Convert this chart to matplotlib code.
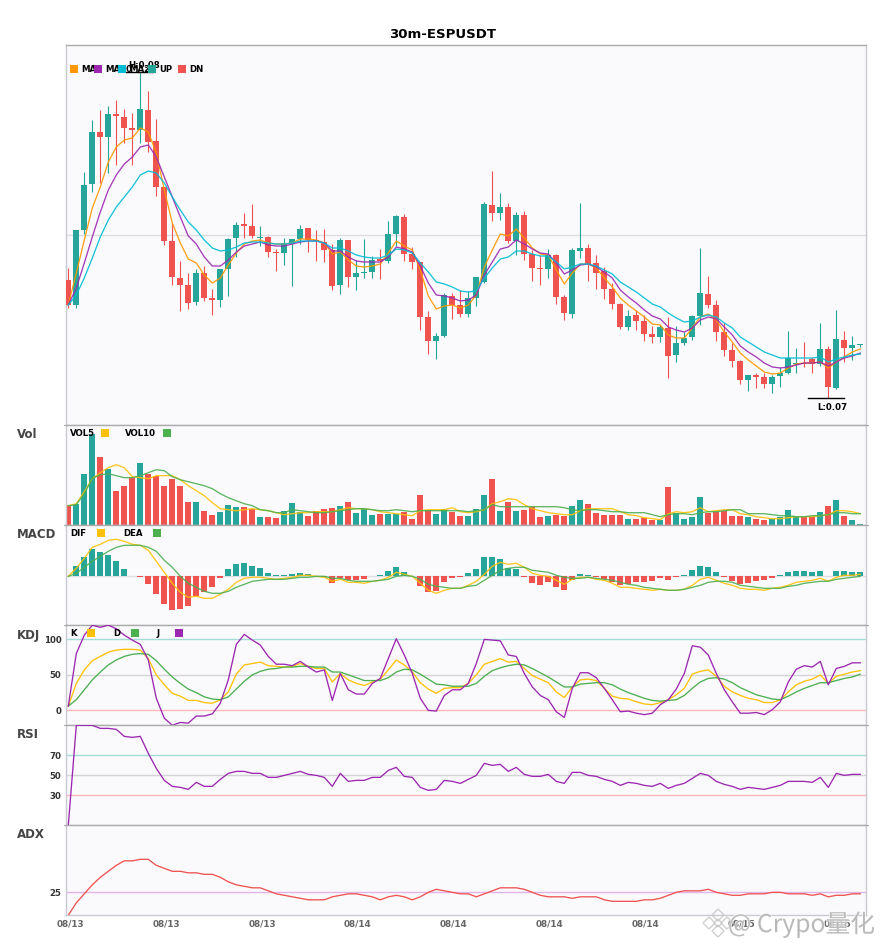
import numpy as np
import matplotlib
matplotlib.use("Agg")
import matplotlib.pyplot as plt
from matplotlib.patches import Rectangle, Polygon
from matplotlib.lines import Line2D
from matplotlib.transforms import ScaledTranslation
import matplotlib.patheffects as pe

# Prices are stored as ticks above the session low
PRICE_LOW = 0.07
TICK = 3e-5

# ---- candles -------------------------------------------------------------
open_t = [118,93,168,214,266,261,284,281,270,268,288,257,211,157,120,113,96,125,100,98,
          129,160,174,172,160,161,146,145,154,159,170,158,156,148,113,158,121,125,126,139,
          137,164,181,144,136,81,57,62,102,93,84,100,116,193,185,191,157,183,144,130,
          129,143,101,84,147,150,135,127,109,94,71,83,77,64,61,70,43,55,61,82,
          104,93,66,48,37,18,23,21,14,22,25,34,35,39,34,49,10,58,50,53]
close_t = [93,168,213,266,261,284,282,270,268,289,256,211,157,121,113,95,125,100,98,129,
           159,173,172,162,161,146,145,155,159,169,158,157,148,112,158,121,125,126,138,137,
           164,182,144,136,81,57,62,103,93,84,100,121,194,185,191,157,183,144,130,129,
           143,101,85,148,150,134,125,109,94,71,82,77,64,61,71,42,55,60,82,105,
           93,66,48,37,18,23,21,14,21,25,40,35,34,34,49,11,59,50,53,54]
high_t = [130,168,226,278,288,292,298,289,285,326,307,279,211,174,137,125,129,132,109,129,
          160,176,185,194,172,162,149,160,159,173,170,168,169,154,160,158,138,159,142,149,
          177,183,184,151,136,87,65,105,105,108,107,121,196,227,205,195,186,187,148,143,
          149,144,103,150,195,154,143,131,115,95,88,88,83,72,73,81,72,66,83,150,
          122,98,75,55,38,23,25,25,23,31,67,50,56,41,75,52,88,67,62,54]
low_t = [90,90,164,206,215,225,233,255,233,255,246,202,153,113,87,89,93,97,83,91,
         102,141,160,160,152,141,127,133,112,154,146,137,136,108,104,111,108,120,120,119,
         135,152,137,129,68,44,39,61,79,81,81,92,115,177,178,155,143,138,117,113,
         120,94,78,80,140,117,109,99,89,69,68,68,57,55,56,20,36,53,58,73,
         90,57,42,31,14,7,10,10,5,11,24,25,31,25,32,0,9,36,38,51]

ma_fast = [93,125,158,190,211,236,251,258,260,270,266,245,208,175,155,139,135,123,115,120,
           133,145,154,157,158,155,154,154,155,159,159,158,155,144,146,
           138,132,131,132,134,145,157,152,148,128,102,89,92,93,90,93,103,131,148,164,
           162,169,160,150,144,143,128,114,125,134,134,
           130,120,111,100,93,87,81,74,73,63,60,60,70,81,84,78,66,56,45,38,32,26,24,25,
           30,34,35,35,36,30,36,41,46,49]
ma_mid = [93,110,135,161,186,208,223,234,241,251,253,241,221,201,181,162,154,141,132,132,
          138,146,152,154,156,153,152,152,154,156,157,157,155,147,147,
          141,137,136,136,136,141,151,149,146,132,115,103,102,100,97,98,103,123,136,149,
          151,158,154,149,145,144,135,124,128,133,134,
          131,126,120,108,101,95,88,82,79,71,68,66,70,78,81,79,71,63,52,46,41,35,31,30,
          31,33,35,35,36,32,36,40,42,45]
ma_slow = [93,103,120,140,161,178,191,201,211,223,227,225,215,201,188,176,168,158,150,147,
           148,151,155,156,156,155,154,154,155,157,157,157,155,150,150,
           147,143,141,140,140,143,149,148,145,135,126,116,114,111,107,106,107,120,130,139,
           141,147,147,144,142,142,136,129,131,134,134,
           132,128,124,116,111,106,100,94,91,85,80,76,77,81,83,81,75,70,61,56,51,46,43,40,
           40,40,40,40,41,36,39,41,43,44]

# ---- volume ---------------------------------------------------------------
volume = [20,21,51,91,68,56,34,39,47,62,51,49,39,46,39,23,23,14,10,13,20,18,18,16,8,8,7,14,
          22,13,9,14,16,17,19,23,12,16,10,11,11,11,13,6,30,15,11,16,13,9,9,16,30,46,14,23,14,
          15,18,8,9,10,9,19,25,
          21,12,10,10,10,6,6,7,5,5,38,12,6,8,28,12,13,14,9,9,8,6,5,6,8,15,9,8,8,13,19,25,9,5,1]
vol5 = [19,21,33,46,52,57,60,57,48,47,46,49,49,49,45,39,34,29,22,16,15,14,15,16,15,14,12,10,11,12,
        12,13,13,13,15,17,16,16,15,13,12,11,10,9,14,15,15,15,17,13,12,13,15,21,23,26,25,20,16,14,
        12,11,10,10,14,16,
        16,16,16,13,10,9,7,6,5,11,13,12,13,17,13,14,15,15,11,10,8,7,6,6,7,8,8,8,9,10,14,14,13,11]
vol10 = [19,20,31,46,50,51,49,47,47,49,52,55,54,48,45,43,41,39,36,31,27,24,21,19,15,14,12,12,15,14,
         13,12,12,13,14,15,16,16,15,14,14,15,14,13,14,14,14,14,14,14,13,14,15,20,18,18,18,18,18,18,
         18,18,17,15,14,15,
         15,14,13,13,12,12,12,10,8,10,11,11,10,12,13,13,14,15,15,11,11,11,10,9,9,8,8,9,9,10,12,12,11,11]

# ---- MACD -----------------------------------------------------------------
macd_hist = [0,10,19,27,24,21,15,7,0,-0.7,-8,-18,-28,-34,-33,-30,-20,-16,-11,-2,7,12,13,10,8,3,1,1,
             2,3,2,0.3,-1,-7,-2,-4,-4,-3,0,1,5,9,4,0,-10,-16,-15,-6,-2,-1,3,7,19,19,17,8,7,-1,-7,-9,
             -6,-11,-14,-4,2,
             1,-1,-3,-6,-9,-8,-6,-6,-5,-2,-4,-1,1,6,10,9,4,-1,-5,-8,-7,-5,-4,-2,1,4,5,5,4,5,0,5,5,4,4]
dif = [0,8,18,29,32,36,37,35,32,31,26,15,4,-7,-16,-21,-20,-22,-22,-18,-13,-6,-2,-1,-1,-2,-3,-2,-1,1,
       1,0,-1,-5,-3,-6,-6,-7,-5,-4,-1,4,2,0,-7,-14,-17,-14,-12,-12,-9,-5,2,10,14,12,13,9,3,1,0,-4,-8,-3,-1,-1,
       -3,-4,-7,-11,-11,-12,-13,-14,-13,-14,-14,-13,-9,-3,-1,-4,-7,-9,-12,-13,-13,-14,-12,-11,-9,-6,-5,-4,-2,-5,-1,1,1,2]
dea = [0,3,9,15,20,25,29,31,31,31,29,25,16,9,0,-7,-11,-15,-17,-17,-15,-11,-8,-5,-4,-3,-3,-3,-2,-1,
       -1,0,0,-2,-2,-4,-5,-5,-5,-4,-3,0,1,0,-3,-8,-10,-11,-12,-12,-10,-9,-4,1,6,8,9,9,6,5,4,1,-1,-2,-2,-1,
       -2,-3,-4,-6,-8,-9,-11,-12,-13,-14,-14,-13,-11,-9,-6,-5,-5,-6,-9,-10,-11,-12,-12,-12,-10,-9,-7,-6,-5,-5,-3,-2,-1,0]

# ---- KDJ ------------------------------------------------------------------
kdj_k = [6,38,57,70,76,82,85,86,86,85,73,50,36,24,20,14,14,11,10,15,26,51,64,66,68,63,62,61,62,66,62,59,59,40,
         52,43,38,35,40,44,57,71,64,54,39,30,24,
         31,32,32,38,50,65,69,73,68,69,59,49,44,39,26,18,33,43,44,42,31,20,17,16,12,9,8,11,15,22,31,51,55,57,
         48,34,26,21,17,15,11,11,15,26,36,41,44,50,38,48,51,54,56]
kdj_d = [6,15,29,43,54,64,71,76,79,80,79,70,58,47,38,30,25,19,16,15,19,30,41,50,55,58,59,61,61,62,62,61,61,54,
         54,50,46,42,42,42,46,54,58,57,51,44,37,
         36,34,34,34,38,48,56,60,63,65,64,59,53,47,40,33,33,37,38,39,39,36,30,25,21,17,14,13,14,15,21,31,40,45,
         46,44,39,32,27,22,19,16,15,20,26,31,35,39,39,42,45,47,51]
kdj_j = [6,80,106,120,117,120,115,106,99,93,71,17,-11,-21,-17,-18,-8,-8,-5,10,43,93,107,99,92,76,65,65,63,69,61,54,57,14,
         52,29,23,23,38,45,73,101,78,52,17,0,-1,
         21,29,29,38,66,100,99,98,78,76,52,33,21,15,-2,-10,31,53,53,46,31,15,-2,-1,-4,-6,-4,8,15,30,52,91,89,78,
         52,29,12,-4,-4,-3,-6,1,12,40,58,63,61,69,36,59,62,67,67]

# ---- RSI / ADX ------------------------------------------------------------
rsi = [0,100,100,100,97,97,96,89,88,89,72,57,45,39,38,36,43,39,39,46,52,54,54,52,52,48,48,50,52,54,51,50,48,39,
       52,44,45,45,48,48,55,58,49,48,38,35,36,
       45,44,42,46,50,62,60,61,54,58,51,49,49,51,44,42,53,53,50,49,46,44,40,43,42,40,39,42,37,40,42,47,52,50,
       44,41,39,36,38,37,36,38,40,44,44,44,43,48,38,52,50,51,51]
adx = [9.7,18,24,30,35,39,43,46,46,47,47,43,41,39,39,38,38,37,37,35,32,30,29,28,28,26,24,23,22,21,20,20,20,22,
       23,24,24,23,22,20,22,23,22,20,22,25,27,
       26,25,24,24,22,24,26,28,28,28,27,25,23,22,22,22,21,22,22,22,20,19,19,19,19,20,20,21,23,25,26,26,26,27,
       25,24,23,23,24,24,24,25,25,24,24,24,23,24,22,23,23,24,24]

date_labels = ["08/13","08/13","08/13","08/14","08/14","08/14","08/14","08/15","08/15"]
title = "30m-ESPUSDT"

# ---- style ----------------------------------------------------------------
UP, DN = "#26A69A", "#EF5350"
C_FAST, C_MID, C_SLOW = "#FF9800", "#9C27B0", "#00BCD4"
C_Y, C_G = "#FFC107", "#4CAF50"
BG = "#FAFAFD"
W, H = 885, 950
plt.rcParams["font.family"] = ["DejaVu Sans"]
fig = plt.figure(figsize=(W / 100, H / 100), dpi=100, facecolor="white")
X0, X1 = 65.5, 865.5
XLIM = (-0.35, 99.65)

def panel(y_top, y_bot, ylim):
    ax = fig.add_axes([X0 / W, 1 - y_bot / H, (X1 - X0) / W, (y_bot - y_top) / H])
    ax.set_xlim(*XLIM)
    ax.set_ylim(*ylim)
    ax.set_facecolor(BG)
    for s in ("left", "right"):
        ax.spines[s].set_color("#C9C9D2")
        ax.spines[s].set_linewidth(1)
    ax.spines["top"].set_color("#ABABAB")
    ax.spines["top"].set_linewidth(1)
    ax.spines["bottom"].set_color("#C9C9D2")
    ax.spines["bottom"].set_linewidth(1)
    ax.set_xticks([])
    ax.set_yticks([])
    ax.tick_params(length=0)
    if y_top > 50:
        for xa, xb in ((X0 - 1.5, X0 + 1), (X1 - 1, X1 + 2)):
            fig.add_artist(Line2D([xa / W, xb / W], [1 - y_top / H] * 2, color="#ABABAB", lw=0.8,
                                  transform=fig.transFigure, zorder=4))
    return ax

def ftext(x, y, s, **kw):
    kw.setdefault("fontweight", "bold")
    kw.setdefault("va", "center")
    kw.setdefault("zorder", 5)
    return fig.text(x / W, 1 - y / H, s, **kw)

def square(x, y, color, size=8):
    fig.add_artist(Rectangle((x / W, 1 - (y + size / 2) / H), size / W, size / H,
                             transform=fig.transFigure, facecolor=color, edgecolor="none", zorder=6))

x = np.arange(len(close_t))
to_price = lambda a: PRICE_LOW + np.asarray(a, float) * TICK
o, c, h, l = map(to_price, (open_t, close_t, high_t, low_t))
is_up = c >= o
colors = [UP if u else DN for u in is_up]
BAR_W = 0.75
LW = 0.95

# ---- main panel -----------------------------------------------------------
ax = panel(45, 424.7, (to_price(-26.7), to_price(353)))
ax.axhline(to_price(162.5), color="#DEDEE2", lw=1, zorder=1)
ax.vlines(x, l, h, colors=colors, lw=0.8, zorder=2)
ax.bar(x, np.maximum(np.abs(c - o), TICK * 0.9), bottom=np.minimum(o, c), width=BAR_W,
       color=colors, zorder=3)
for series, col in ((ma_fast, C_FAST), (ma_mid, C_MID), (ma_slow, C_SLOW)):
    ax.plot(x, to_price(series), color=col, lw=LW, alpha=0.9, zorder=4)

i_hi = int(np.argmax(h)); i_lo = int(np.argmin(l))
ax.plot([i_hi - 1.8, i_hi + 1.6], [h[i_hi]] * 2, color="black", lw=1, zorder=5)
ax.plot([i_lo - 2.5, i_lo + 1.9], [l[i_lo]] * 2, color="black", lw=1, zorder=5)
ax.annotate(f"H:{h[i_hi]:.2f}", (i_hi, h[i_hi]), xytext=(3, 1.5), textcoords="offset points",
            ha="center", va="bottom", fontsize=6.2, fontweight="bold", zorder=5)
ax.annotate(f"L:{l[i_lo]:.2f}", (i_lo, l[i_lo]), xytext=(3, -3.5), textcoords="offset points",
            ha="center", va="top", fontsize=6.2, fontweight="bold", zorder=5)

ftext(443, 35, title, fontsize=9.5, ha="center")
for xs, xt, lab, col in ((70, 81, "MA5", C_FAST), (94, 105, "MA10", C_MID), (118, 129, "MA20", C_SLOW),
                         (148, 159, "UP", UP), (178, 189, "DN", DN)):
    ftext(xt, 69, lab, fontsize=6.2, zorder=5)
    square(xs, 69, col)

# ---- volume ---------------------------------------------------------------
ax = panel(424.7, 524.7, (0, 100))
ax.bar(x, volume, width=BAR_W, color=colors, zorder=2)
ax.plot(x, vol5, color=C_Y, lw=LW, alpha=0.9, zorder=3)
ax.plot(x, vol10, color=C_G, lw=LW, alpha=0.9, zorder=3)
ftext(17, 435, "Vol", fontsize=8.5, color="#444444")
ftext(70, 434, "VOL5", fontsize=6.2); square(101, 433, C_Y)
ftext(125, 434, "VOL10", fontsize=6.2); square(163, 433, C_G)

# ---- MACD -----------------------------------------------------------------
ax = panel(524.7, 624.7, (-48.4, 51.6))
ax.axhline(0, color="#DEDEE2", lw=1, zorder=1)
hist = np.asarray(macd_hist, float)
ax.bar(x, hist, width=BAR_W, color=[UP if v >= 0 else DN for v in hist], zorder=2)
ax.plot(x, dif, color=C_Y, lw=LW, alpha=0.9, zorder=3)
ax.plot(x, dea, color=C_G, lw=LW, alpha=0.9, zorder=3)
ftext(17, 535, "MACD", fontsize=8.5, color="#444444")
ftext(70, 534, "DIF", fontsize=6.2); square(97, 533, C_Y)
ftext(123, 534, "DEA", fontsize=6.2); square(153, 533, C_G)

# ---- KDJ ------------------------------------------------------------------
def levels(ax, vals, cols):
    for v, col in zip(vals, cols):
        ax.axhline(v, color=col, lw=1, zorder=1)
    ax.set_yticks(vals)
    ax.set_yticklabels([str(v) for v in vals], fontsize=6.2, fontweight="bold", color="#333333")
    ax.tick_params(axis="y", length=0, pad=3)

ax = panel(624.7, 724.7, (-20.2, 120.7))
levels(ax, [0, 50, 100], ["#FFB6B6", "#D4D4D8", "#A5DCD8"])
ax.plot(x, kdj_k, color=C_Y, lw=LW, zorder=3)
ax.plot(x, kdj_d, color=C_G, lw=LW, zorder=3)
ax.plot(x, kdj_j, color=C_MID, lw=LW, zorder=4)
ftext(17, 635, "KDJ", fontsize=8.5, color="#444444")
ftext(70, 634, "K", fontsize=6.2); square(87, 633, C_Y)
ftext(113, 634, "D", fontsize=6.2); square(131, 633, C_G)
ftext(157, 634, "J", fontsize=6.2); square(175, 633, C_MID)

# ---- RSI ------------------------------------------------------------------
ax = panel(724.7, 824.7, (0.67, 100.67))
levels(ax, [30, 50, 70], ["#FFB6B6", "#D4D4D8", "#A5DCD8"])
ax.plot(x, rsi, color=C_MID, lw=LW, zorder=3)
ftext(17, 735, "RSI", fontsize=8.5, color="#444444")

# ---- ADX ------------------------------------------------------------------
ax = panel(824.7, 915.3, (9.67, 70.1))
levels(ax, [25], ["#E3B4EA"])
ax.plot(x, adx, color=DN, lw=LW, zorder=3)
ftext(17, 835, "ADX", fontsize=8.5, color="#444444")
ax.set_xticks(np.arange(len(date_labels)) * 12)
ax.set_xticklabels(date_labels, fontsize=6.4, fontweight="bold", color="#666666")
ax.tick_params(axis="x", length=0, pad=3)
shift = ScaledTranslation(1.7 / 100, 0, fig.dpi_scale_trans)
for lbl in ax.get_xticklabels():
    lbl.set_transform(lbl.get_transform() + shift)

# ---- watermark ------------------------------------------------------------
halo = [pe.withStroke(linewidth=1.2, foreground="white", alpha=0.7)]
fig.text(728 / W, 1 - 925 / H, "@ Crypo量化", fontsize=17.8, color="#B0B0B0", alpha=0.8,
         va="center", ha="left", family=["Noto Sans CJK SC", "DejaVu Sans"],
         zorder=8, path_effects=halo)
def diamond(cx, cy, r):
    fig.add_artist(Polygon([((cx) / W, 1 - (cy - r) / H), ((cx + r) / W, 1 - cy / H),
                            ((cx) / W, 1 - (cy + r) / H), ((cx - r) / W, 1 - cy / H)],
                           closed=True, transform=fig.transFigure, facecolor="none",
                           edgecolor="#C4C4C4", lw=1, alpha=0.8, zorder=8))
for cx, cy, r in ((718, 915, 6), (718, 931, 6), (709, 923, 6), (727, 923, 6), (718, 923, 4)):
    diamond(cx, cy, r)

fig.savefig("out.png", dpi=100, facecolor="white")
